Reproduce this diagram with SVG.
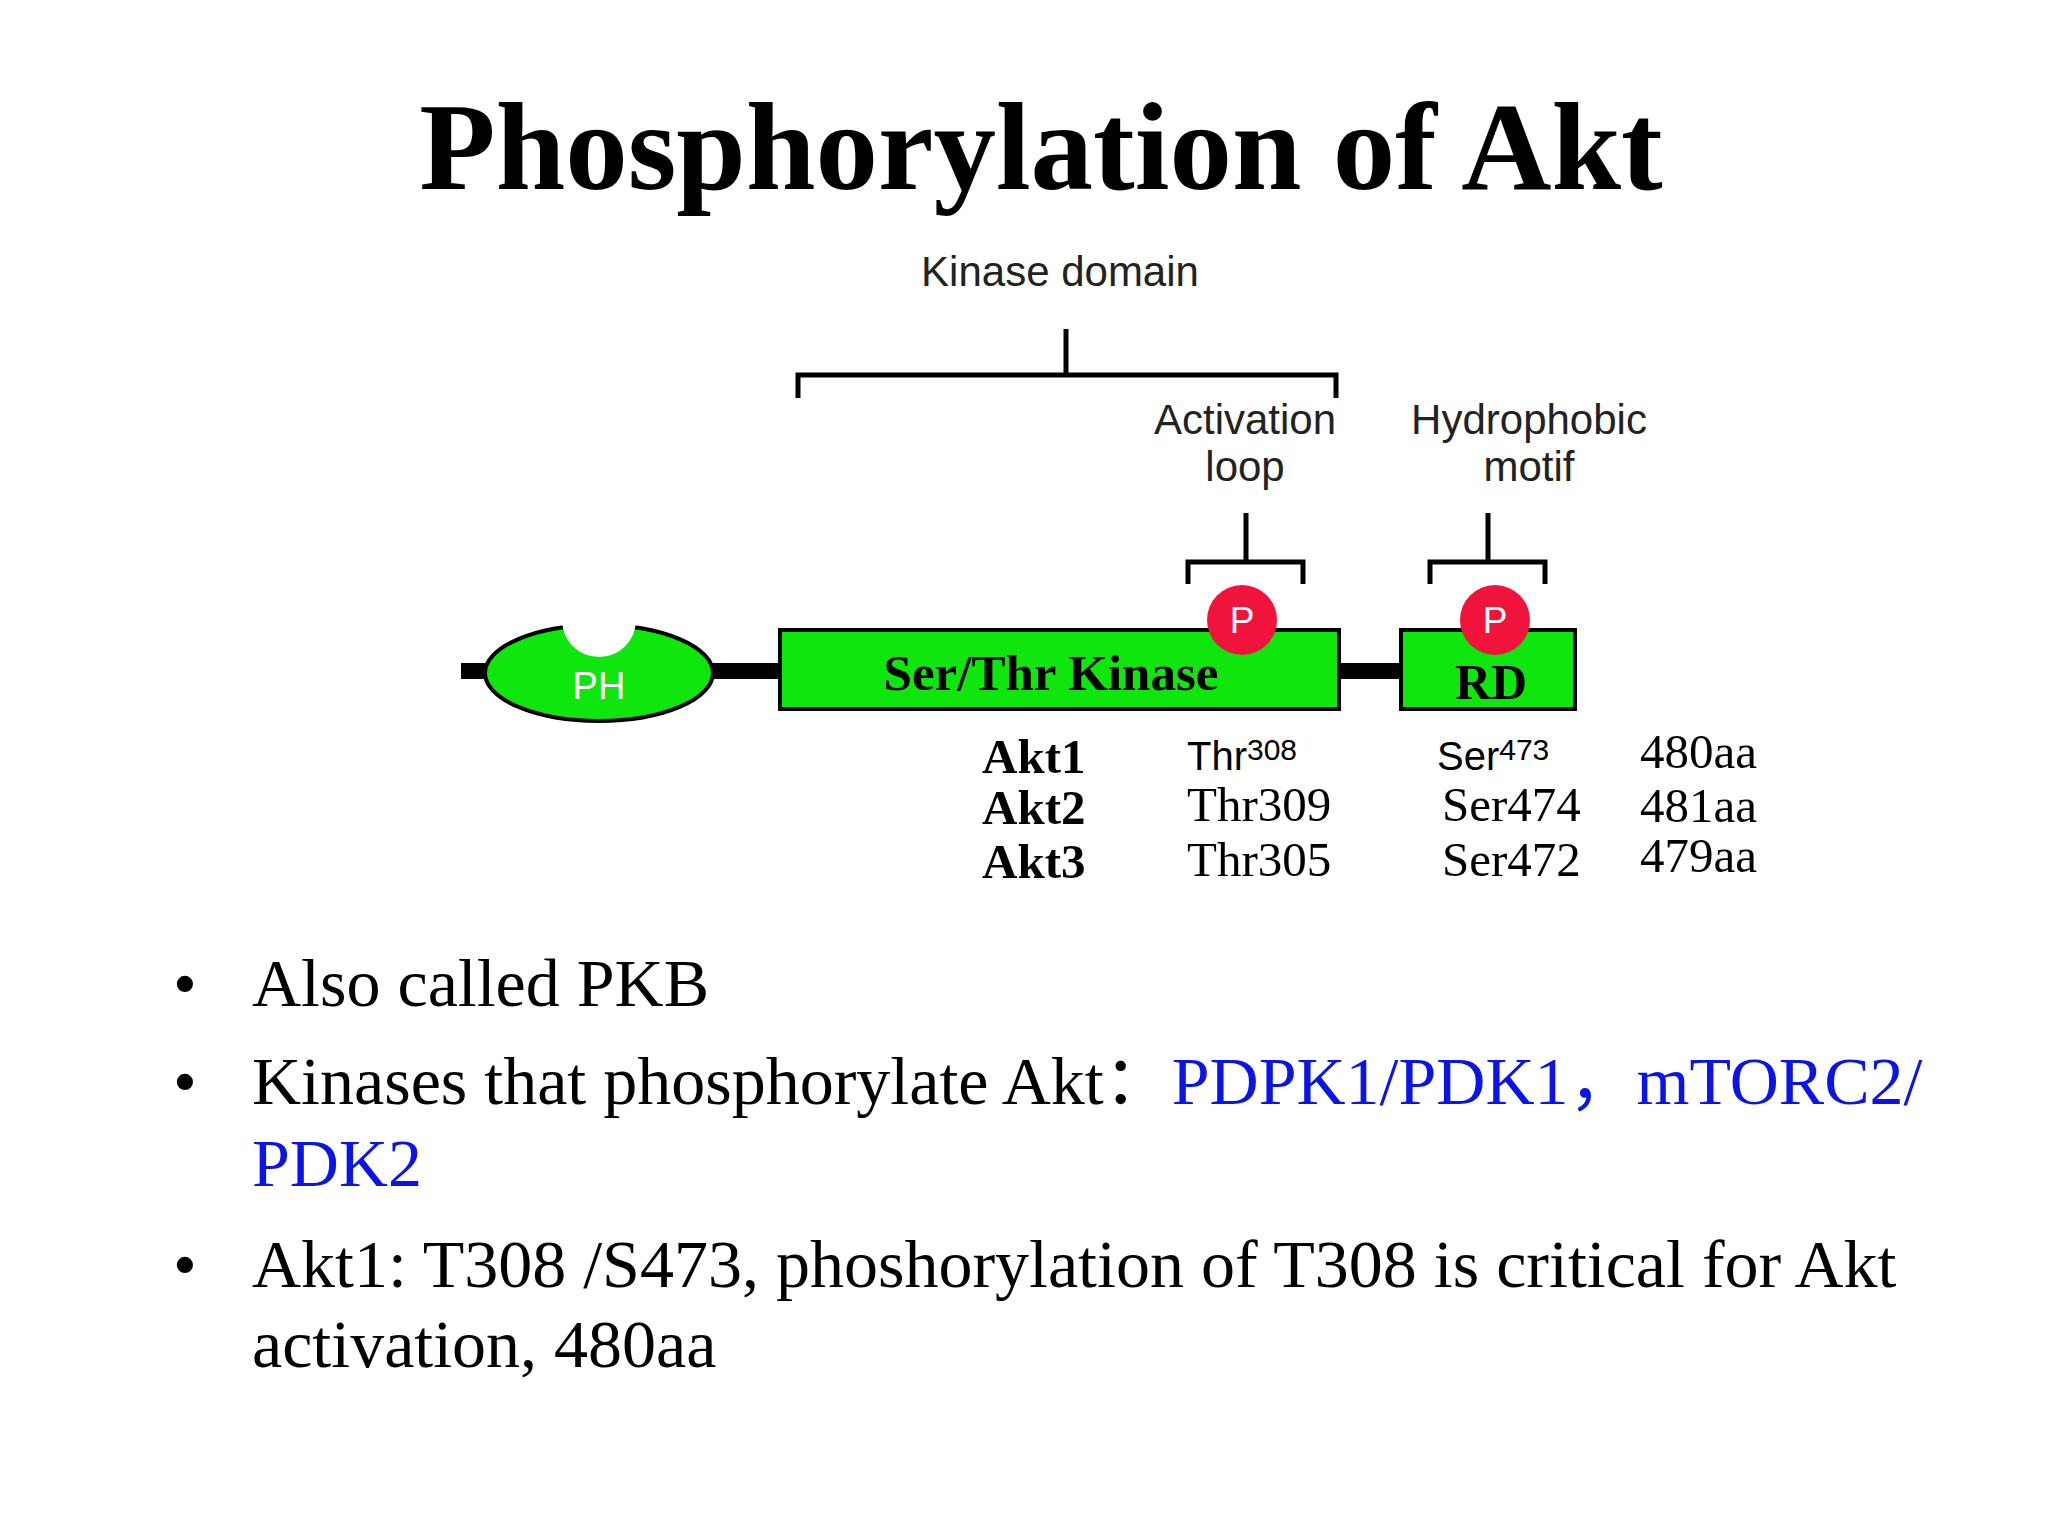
<svg xmlns="http://www.w3.org/2000/svg" width="2048" height="1536" viewBox="0 0 2048 1536">
<style>
.br{fill:none;stroke:#000;stroke-width:5}
.lab{font-family:"Liberation Sans",Arial,sans-serif;font-size:42px;fill:#222;text-anchor:middle}
.tb{font-family:"Liberation Serif","Times New Roman",serif;font-size:49px;fill:#000}
.bl{font-family:"Liberation Serif","Times New Roman","Noto Sans CJK SC",serif;font-size:68px;fill:#000}
.blue{fill:#0a14e6}
</style>
<rect width="2048" height="1536" fill="#fff"/>
<text x="1041" y="189" text-anchor="middle" font-family="Liberation Serif,serif" font-weight="bold" font-size="125">Phosphorylation of Akt</text>
<g id="connectors">
<path class="br" d="M798 398V375H1336V398M1066 329V375"/>
<path class="br" d="M1188 584V562H1303V584M1246 513V562"/>
<path class="br" d="M1430 584V562H1545V584M1488 513V562"/>
<line x1="461" y1="671" x2="1401" y2="671" stroke="#000" stroke-width="16"/>
</g>
<text class="lab" x="1060" y="286">Kinase domain</text>
<text class="lab" x="1245" y="434">Activation</text>
<text class="lab" x="1245" y="481">loop</text>
<text class="lab" x="1529" y="434">Hydrophobic</text>
<text class="lab" x="1529" y="481">motif</text>
<g id="ph">
<ellipse cx="599" cy="673" rx="114" ry="48" fill="#0ee60e" stroke="#000" stroke-width="4"/>
<circle cx="599" cy="620" r="37" fill="#fff"/>
<text x="599" y="699" text-anchor="middle" font-family="Liberation Sans,sans-serif" font-size="38" fill="#fff">PH</text>
</g>
<g id="kinase">
<rect x="780" y="630" width="559" height="79" fill="#0ee60e" stroke="#000" stroke-width="4"/>
<text x="1051" y="690" text-anchor="middle" font-family="Liberation Serif,serif" font-weight="bold" font-size="51">Ser/Thr Kinase</text>
</g>
<g id="rd">
<rect x="1401" y="630" width="174" height="79" fill="#0ee60e" stroke="#000" stroke-width="4"/>
<text x="1491" y="699" text-anchor="middle" font-family="Liberation Serif,serif" font-weight="bold" font-size="50">RD</text>
</g>
<g id="p1"><circle cx="1242" cy="620" r="35" fill="#f0143c"/><text x="1242" y="633" text-anchor="middle" font-family="Liberation Sans,sans-serif" font-size="37" fill="#fff">P</text></g>
<g id="p2"><circle cx="1495" cy="620" r="35" fill="#f0143c"/><text x="1495" y="633" text-anchor="middle" font-family="Liberation Sans,sans-serif" font-size="37" fill="#fff">P</text></g>
<g id="table">
<text class="tb" font-weight="bold" x="982" y="773">Akt1</text>
<text class="tb" font-weight="bold" x="982" y="824">Akt2</text>
<text class="tb" font-weight="bold" x="982" y="878">Akt3</text>
<text x="1187" y="770" font-family="Liberation Sans,sans-serif" font-size="40">Thr<tspan font-size="30" dy="-10">308</tspan></text>
<text class="tb" x="1187" y="821">Thr309</text>
<text class="tb" x="1187" y="876">Thr305</text>
<text x="1437" y="770" font-family="Liberation Sans,sans-serif" font-size="40">Ser<tspan font-size="30" dy="-10">473</tspan></text>
<text class="tb" x="1442" y="821">Ser474</text>
<text class="tb" x="1442" y="876">Ser472</text>
<text class="tb" font-size="42" x="1640" y="768">480aa</text>
<text class="tb" font-size="42" x="1640" y="822">481aa</text>
<text class="tb" font-size="42" x="1640" y="872">479aa</text>
</g>
<g id="bullets">
<text class="bl" x="173" y="1006">•</text>
<text class="bl" x="252" y="1006">Also called PKB</text>
<text class="bl" x="173" y="1104">•</text>
<text class="bl" x="252" y="1104">Kinases that phosphorylate Akt：<tspan class="blue">PDPK1/PDK1，mTORC2/</tspan></text>
<text class="bl blue" x="252" y="1186">PDK2</text>
<text class="bl" x="173" y="1287">•</text>
<text class="bl" x="252" y="1287">Akt1: T308 /S473, phoshorylation of T308 is critical for Akt</text>
<text class="bl" x="252" y="1367">activation, 480aa</text>
</g>
</svg>
